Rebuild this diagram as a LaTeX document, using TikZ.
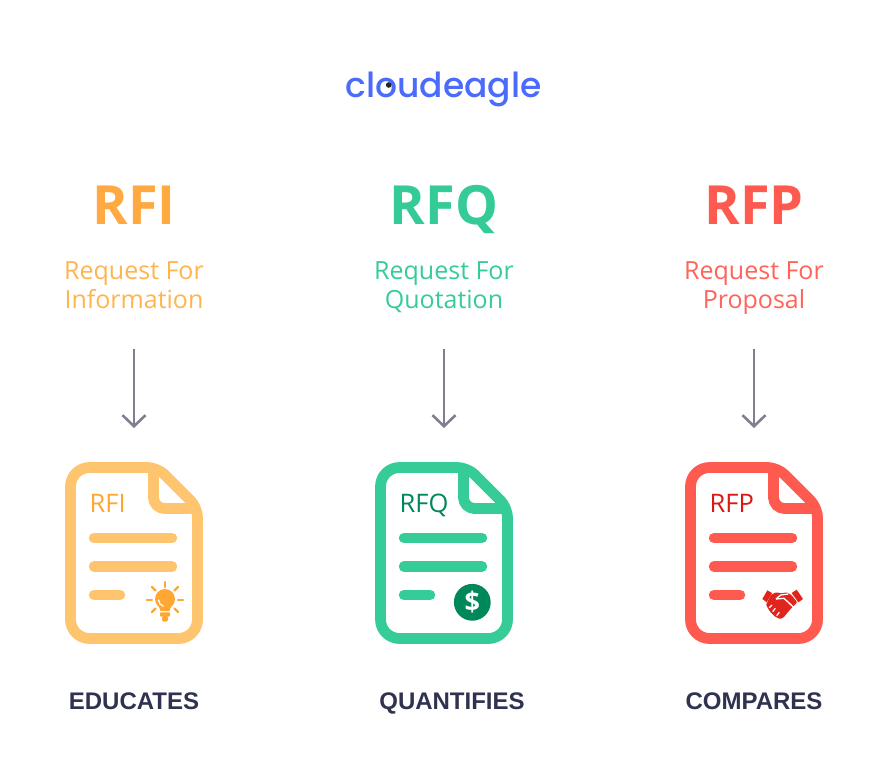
\documentclass[tikz,border=0pt]{standalone}
\usepackage{fontspec}
\setmainfont{Open Sans}
\newfontfamily\capfont{Liberation Sans}
\newfontfamily\logofont[UprightFont=* Medium]{Poppins}
\usetikzlibrary{arrows.meta}
\definecolor{orA}{HTML}{FFA940}\definecolor{orB}{HTML}{FFC46E}\definecolor{orC}{HTML}{FFB54F}\definecolor{orD}{HTML}{FFA733}
\definecolor{grA}{HTML}{34CB96}\definecolor{grB}{HTML}{36CC97}\definecolor{grC}{HTML}{36CC97}\definecolor{grD}{HTML}{00875A}
\definecolor{reA}{HTML}{FF5A4F}\definecolor{reB}{HTML}{FF5A4F}\definecolor{reC}{HTML}{FF6359}\definecolor{reD}{HTML}{DA1A12}
\definecolor{inkc}{HTML}{2F3350}\definecolor{arrowc}{HTML}{7F7F8F}\definecolor{logoc}{HTML}{4B6BFB}\definecolor{shakec}{HTML}{E0261C}
\tikzset{
  titletext/.style={font=\fontsize{54}{54}\selectfont\bfseries,anchor=base,inner sep=0pt},
  subtext/.style={font=\fontsize{25}{29}\selectfont,anchor=base,inner sep=0pt},
  captext/.style={font=\capfont\fontsize{24}{24}\selectfont\bfseries,text=inkc,anchor=base,inner sep=0pt},
  doctext/.style={font=\fontsize{25.5}{25.5}\selectfont,anchor=base west,inner sep=0pt},
  flow/.style={draw=arrowc,line width=2.6pt,-{Straight Barb[length=11pt,width=23pt,line width=2.6pt]}},
  docline/.style={line width=10.8pt,line join=round},
  textbar/.style={line width=10.5pt,line cap=round},
  ray/.style={draw=orD,line width=2.2pt,line cap=round},
  notch/.style={draw=white,line width=1.3pt},
}
\begin{document}
\begin{tikzpicture}[x=1pt,y=-1pt]
\useasboundingbox (0,0) rectangle (887,779);
\fill[white] (0,0) rectangle (887,779);
\node[font=\logofont\fontsize{34.5}{34.5}\selectfont,text=logoc,anchor=base,inner sep=0pt] (logo) at (443.5,97) {cloudeagle};
\fill[black!85] (388.7,85) circle (2.8);
\foreach \n/\dx/\abbr/\subA/\subB/\capt/\capx/\ca/\cb/\cc/\cd in {
  i/0/RFI/Request For/Information/EDUCATES/134/orA/orB/orC/orD,
  q/310/RFQ/Request For/Quotation/QUANTIFIES/142/grA/grB/grC/grD,
  p/620/RFP/Request For/Proposal/COMPARES/134/reA/reB/reC/reD}{
  \begin{scope}[xshift=\dx pt]
    \node[titletext,text=\ca] (title\n) at (134,224.5) {\abbr};
    \node[subtext,text=\cc] (subA\n) at (134,279.5) {\subA};
    \node[subtext,text=\cc] (subB\n) at (134,308) {\subB};
    \coordinate (from\n) at (134,349);
    \coordinate (to\n) at (134,428);
    \draw[flow] (from\n) -- (to\n);
    \draw[docline,draw=\cb,rounded corners=19pt] (120,467.5) -- (70.5,467.5) -- (70.5,638.5) -- (197.5,638.5) -- (197.5,560);
    \draw[docline,draw=\cb,rounded corners=10pt] (120,467.5) -- (157.5,467.5) -- (197.5,507.5) -- (197.5,560);
    \draw[docline,draw=\cb,rounded corners=11pt] (153.5,467.5) -- (153.5,508.5) -- (197.5,508.5);
    \draw[textbar,draw=\cb] (94,538) -- (172,538);
    \draw[textbar,draw=\cb] (94,566.5) -- (172,566.5);
    \draw[textbar,draw=\cb] (94,595) -- (120,595);
    \node[doctext,text=\cd] (doc\n) at (89.5,512) {\abbr};
    \node[captext] (cap\n) at (\capx,709) {\capt};
  \end{scope}
}
% bulb
\fill[orD] (165,599) circle[radius=10];
\fill[orD] (158,604) -- (172,604) -- (169.5,611) -- (160.5,611) -- cycle;
\fill[orD,rounded corners=0.8pt] (160,612.3) rectangle (170,616.5);
\fill[orD,rounded corners=1.5pt] (162,616) rectangle (168,621.5);
\draw[white,line width=1.3pt,line cap=round] (158.6,600) arc[start angle=180,end angle=105,radius=6.4];
\draw[ray] (165,582) -- (165,587);
\draw[ray] (147,600) -- (152,600);
\draw[ray] (178,600) -- (183,600);
\draw[ray] (152,587) -- (155.5,590.5);
\draw[ray] (178,587) -- (174.5,590.5);
\draw[ray] (152,612) -- (155.5,608.5);
\draw[ray] (178,612) -- (174.5,608.5);
% dollar
\node[circle,fill=grD,minimum size=36.8pt,inner sep=0pt,text=white,font=\fontsize{27}{27}\selectfont\bfseries] (dollar) at (472.3,602.3) {\$};
% handshake
\begin{scope}[shift={(750,575)},x=0.3333pt,y=-0.3333pt]
  \fill[shakec] (37,72) -- (52,46) -- (66,54) -- (50,82) -- cycle;
  \fill[shakec] (125,54) -- (140,44) -- (159,72) -- (145,82) -- cycle;
  \fill[shakec,rounded corners=1pt] (62,60) -- (78,52) -- (95,55) -- (110,52) -- (124,60) -- (142,82) -- (122,102) -- (100,128) -- (90,132) -- (75,125) -- (60,110) -- (48,90) -- cycle;
  \draw[notch] (78,72) -- (92,60) -- (115,57);
  \draw[notch] (78,72) -- (102,70) -- (130,96);
  \draw[notch] (58,98) -- (66,90);
  \draw[notch] (68,110) -- (76,100);
  \draw[notch] (80,122) -- (88,112);
\end{scope}
\end{tikzpicture}
\end{document}
